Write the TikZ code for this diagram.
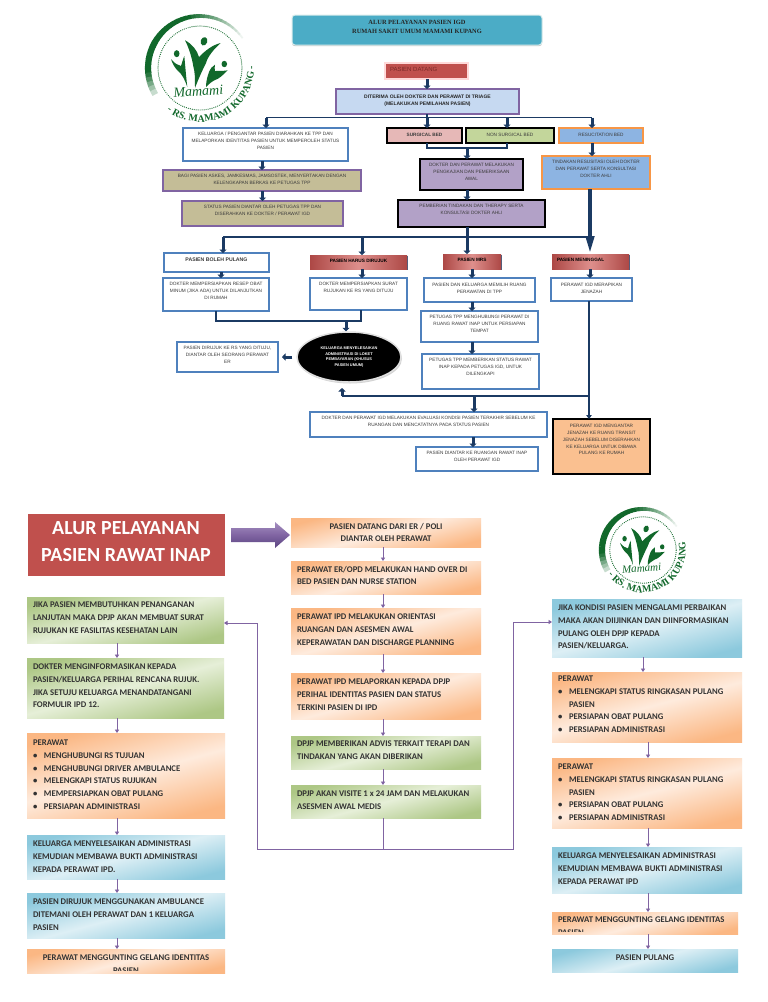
\documentclass[tikz,border=0pt]{standalone}
\usepackage{fontspec}
\setmainfont{Liberation Sans}
\newfontfamily\calfam{Carlito}
\newfontfamily\tnrfam{Liberation Serif}
\usetikzlibrary{arrows.meta,shapes.geometric,shadows,calc,decorations.text}
\definecolor{navy}{HTML}{1B3A63}
\definecolor{bdblue}{HTML}{4F81BD}
\definecolor{bdpurple}{HTML}{8064A2}
\definecolor{tanfill}{HTML}{C4BD97}
\definecolor{lav}{HTML}{B2A1C7}
\definecolor{sky}{HTML}{8DB4E2}
\definecolor{bdorange}{HTML}{F79646}
\definecolor{logogreen}{HTML}{11682B}
\definecolor{txt}{HTML}{3C3C3C}
\definecolor{tealfill}{HTML}{4BACC6}
\definecolor{palebluefill}{HTML}{C6D9F1}
\definecolor{pinkfill}{HTML}{E6B8B7}
\definecolor{limefill}{HTML}{C3D69B}
\definecolor{peachfill}{HTML}{FAC090}
\definecolor{redfill}{HTML}{C0504D}
\definecolor{redmid}{HTML}{DE8F8C}
\definecolor{maroon}{HTML}{7A2A28}
\definecolor{oedge}{HTML}{FBB783}
\definecolor{omid}{HTML}{FEEBDD}
\definecolor{gedge}{HTML}{ADC785}
\definecolor{gmid}{HTML}{E6EFD8}
\definecolor{bedge}{HTML}{8CC9DD}
\definecolor{bmid}{HTML}{DDEFF5}
\definecolor{ptop}{HTML}{A48FC0}
\definecolor{pbot}{HTML}{5A4480}
\newcommand{\ftop}{\fontsize{4.7}{6.8}\selectfont}
\newcommand{\ftopb}{\fontsize{4.7}{6.8}\selectfont\bfseries}
\newcommand{\fbot}{\calfam\bfseries\fontsize{8.7}{12.7}\selectfont}
\newcommand{\Ctr}{\centering}
\newcommand{\Lft}{\raggedright\leftskip=6pt\relax}
\newcommand{\Bul}{\makebox[11pt][l]{\textbullet}}
\newlength{\bxcap}
\newcommand{\bx}[8]{%
  \pgfmathsetmacro\bxW{#4-#2}\pgfmathsetmacro\bxH{#5-#3}\pgfmathsetmacro\bxO{#7-#3}%
  \node[#6,anchor=north west,minimum width=\bxW pt,minimum height=\bxH pt,inner sep=0pt,outer sep=0pt] (#1) at (#2,-#3)
   {\parbox[c][\bxH pt][t]{\bxW pt}{\settoheight{\bxcap}{H}\vspace*{\dimexpr\bxO pt-.5\bxcap\relax}#8}};}
\newcommand{\logo}[4]{%
 \begin{scope}[shift={(#2,-#3)},scale=#4,transform shape]
  \foreach \a in {30,35,...,205}{%
    \pgfmathsetmacro\tt{100*max(0,min(1,min((\a-30)/70,(212-\a)/30)))}%
    \pgfmathsetmacro\lw{1.6+4.6*min(1,(\a-30)/120)}%
    \draw[logogreen!\tt!white,line width=\lw pt] (\a:52pt) arc (\a:\a+5.6:52pt);}
  \draw[logogreen,line width=1.2pt,dash pattern=on 0pt off 2pt,line cap=round] (0,0) circle (42pt);
  \fill[logogreen] (-15,27.7) .. controls (-8,24) and (-3,18) .. (-1,11) .. controls (5,17) and (12,23) .. (20.7,25) .. controls (14,19) and (8,12) .. (6,5) .. controls (2,-3) and (-2,-12) .. (-5,-20) .. controls (-5,-10) and (-5,-4) .. (-6.7,1.7) .. controls (-8,10) and (-11,20) .. (-15,27.7) -- cycle;
  \fill[logogreen,rotate around={-20:(4,26.7)}] (4,26.7) ellipse (3.3pt and 4.3pt);
  \fill[logogreen] (-29,9) .. controls (-25,4) and (-22,3) .. (-19,2) .. controls (-18,5) and (-17,9) .. (-15.7,12) .. controls (-15,5) and (-14,-8) .. (-12.7,-19) .. controls (-15,-12) and (-18,-6) .. (-22,-3) .. controls (-25,0) and (-28,5) .. (-29,9) -- cycle;
  \fill[logogreen] (-23.3,14.3) ellipse (2.8pt and 3.5pt);
  \fill[logogreen] (6,-19) .. controls (6,-12) and (8,-7) .. (9.3,-3.3) .. controls (10,-1) and (12,1.5) .. (15,3.3) .. controls (14.5,1) and (14.5,-1) .. (15,-3) .. controls (19,-3) and (24,-3) .. (27.7,-2.3) .. controls (23,-7) and (19,-11) .. (15,-12) .. controls (11,-14) and (8,-17) .. (6,-19) -- cycle;
  \fill[logogreen] (24.3,4) ellipse (2.8pt and 3.2pt);
  \node[text=logogreen,font=\tnrfam\itshape\fontsize{14}{15}\selectfont,rotate=4,inner sep=0pt] (#1) at (-1.7,-23.3) {Mamami};
  \path[decorate,decoration={text along path,text align={center},text={|\tnrfam\bfseries\fontsize{10}{11}\selectfont\color{logogreen}|- RS. MAMAMI KUPANG -}}] (226:54pt) arc (226:368:54pt);
 \end{scope}}
\tikzset{
 x=1pt,y=1pt,
 wbox/.style={draw=bdblue,line width=1.2pt,fill=white,text=txt,font=\ftop},
 tanbox/.style={draw=bdpurple,line width=1.2pt,fill=tanfill,text=txt,font=\ftop},
 lavbox/.style={draw=black,line width=1.5pt,fill=lav,text=txt,font=\ftop},
 bedbox/.style={draw=black,line width=1.5pt,text=txt,font=\ftop},
 skybox/.style={fill=sky,draw=bdorange,text=txt,font=\ftop},
 redbev/.style={left color=redfill!90!black,right color=redfill!90!black,middle color=redmid,font=\ftopb,text=black,drop shadow={shadow xshift=1.2pt,shadow yshift=-1.4pt,opacity=1,fill=navy!80}},
 softbase/.style={shading angle=15,font=\fbot,text=black!80,drop shadow={shadow xshift=0pt,shadow yshift=-1.2pt,opacity=.55,fill=gray}},
 obox/.style={left color=oedge,right color=oedge,middle color=omid,softbase},
 gbox/.style={left color=gedge,right color=gedge,middle color=gmid,softbase},
 bbox/.style={left color=bedge,right color=bedge,middle color=bmid,softbase},
 plainbody/.style={font=\fbot,text=black!80},
 narr/.style={draw=navy,line width=3pt,-{Triangle[width=7pt,length=3.5pt]}},
 nline/.style={draw=navy,line width=1.5pt},
 nthick/.style={draw=navy,line width=2pt},
 parr/.style={draw=bdpurple,line width=1pt,-{Triangle[width=4.2pt,length=3.5pt]}},
 pline/.style={draw=bdpurple,line width=1pt},
}
\begin{document}
\begin{tikzpicture}
\useasboundingbox (0,0) rectangle (768,-1002);
\fill[white] (0,0) rectangle (768,-1002);
\logo{logoa}{200}{68}{1}
\logo{logob}{643}{550}{.79}
% ---------- top diagram
\bx{title}{292}{15}{542}{45}{rounded corners=3pt,fill=tealfill,draw=white!85!teal,line width=1pt,font=\tnrfam\bfseries\fontsize{6.4}{8.6}\selectfont,text=black!85,drop shadow={shadow xshift=0pt,shadow yshift=-1.2pt,opacity=.5,fill=gray}}{22.7}{\Ctr ALUR PELAYANAN PASIEN IGD\\RUMAH SAKIT UMUM MAMAMI KUPANG}
\bx{datang}{385}{63}{468}{79}{fill=redfill,draw=red!15,line width=1.2pt,font=\fontsize{6}{7}\selectfont,text=maroon,drop shadow={shadow xshift=.8pt,shadow yshift=-.8pt,opacity=.4,fill=gray}}{69}{\raggedright\leftskip=5pt\relax PASIEN DATANG}
\bx{triage}{336}{89}{519}{114}{fill=palebluefill,draw=bdpurple,line width=1.3pt,font=\fontsize{5}{7}\selectfont\bfseries,text=black!85}{97}{\Ctr DITERIMA OLEH DOKTER DAN PERAWAT DI TRIAGE\\(MELAKUKAN PEMILAHAN PASIEN)}
\bx{k1}{183}{128}{348}{161}{wbox}{134}{\Ctr KELUARGA / PENGANTAR PASIEN DIARAHKAN KE TPP DAN\\MELAPORKAN IDENTITAS PASIEN UNTUK MEMPEROLEH STATUS\\PASIEN}
\bx{k2}{163}{170}{361}{191}{tanbox}{176}{\Ctr BAGI PASIEN ASKES, JAMKESMAS, JAMSOSTEK, MENYERTAKAN DENGAN\\KELENGKAPAN BERKAS KE PETUGAS TPP}
\bx{k3}{182}{201}{343}{226}{tanbox}{207}{\Ctr STATUS PASIEN DIANTAR OLEH PETUGAS TPP DAN\\DISERAHKAN KE DOKTER / PERAWAT IGD}
\bx{surg}{387}{128}{462}{143}{bedbox,fill=pinkfill,font=\ftopb}{135}{\Ctr SURGICAL BED}
\bx{nons}{466}{128}{554}{143}{bedbox,fill=limefill}{135}{\Ctr NON SURGICAL BED}
\bx{resus}{559}{128}{643}{143}{skybox,line width=1.5pt}{135}{\Ctr RESUCITATION BED}
\bx{dok}{420}{159}{523}{190}{lavbox}{165}{\Ctr DOKTER DAN PERAWAT MELAKUKAN\\PENGKAJIAN DAN PEMERIKSAAN\\AWAL}
\bx{pemb}{398}{200}{545}{227}{lavbox}{206}{\Ctr PEMBERIAN TINDAKAN DAN THERAPY SERTA\\KONSULTASI DOKTER AHLI}
\bx{tind}{542}{156}{650}{189}{skybox,line width=2pt}{162}{\Ctr TINDAKAN RESUSITASI OLEH DOKTER\\DAN PERAWAT SERTA KONSULTASI\\DOKTER AHLI}
\bx{boleh}{164}{253}{269}{272}{wbox,font=\fontsize{5.2}{6.8}\selectfont\bfseries}{260}{\Ctr PASIEN BOLEH PULANG}
\bx{harus}{310}{255}{407}{269}{redbev}{261}{\Ctr PASIEN HARUS DIRUJUK}
\bx{mrs}{443}{254}{501}{269}{redbev}{260}{\Ctr PASIEN MRS}
\bx{mening}{552}{254}{629}{269}{redbev}{260}{\raggedright\leftskip=5pt\relax PASIEN MENINGGAL}
\bx{resep}{163}{278}{269}{311}{wbox}{284}{\Ctr DOKTER MEMPERSIAPKAN RESEP OBAT\\MINUM (JIKA ADA) UNTUK DILANJUTKAN\\DI RUMAH}
\bx{surat}{310}{278}{407}{310}{wbox}{284}{\Ctr DOKTER  MEMPERSIAPKAN SURAT\\RUJUKAN KE RS YANG DITUJU}
\node[ellipse,fill=black,draw=black!12,line width=1.5pt,minimum width=104pt,minimum height=50pt,inner sep=0pt,text=white,align=center,font=\fontsize{3.9}{5.6}\selectfont\bfseries,drop shadow={shadow xshift=1pt,shadow yshift=-1.5pt,opacity=.35,fill=gray}] (oval) at (349,-357) {KELUARGA MENYELESAIKAN\\ADMINISTRASI DI LOKET\\PEMBAYARAN (KHUSUS\\PASIEN UMUM)};
\bx{dirujuk}{177}{342}{278}{372}{wbox}{348}{\Ctr PASIEN DIRUJUK KE RS YANG DITUJU,\\DIANTAR OLEH SEORANG PERAWAT\\ER}
\bx{pilih}{424}{278}{535}{302}{wbox}{285}{\Ctr PASIEN DAN KELUARGA MEMILIH RUANG\\PERAWATAN DI TPP}
\bx{hub}{421}{311}{538}{342}{wbox}{317}{\Ctr PETUGAS TPP  MENGHUBUNGI PERAWAT DI\\RUANG RAWAT INAP UNTUK PERSIAPAN\\TEMPAT}
\bx{beri}{422}{354}{539}{389}{wbox}{360}{\Ctr PETUGAS TPP MEMBERIKAN STATUS RAWAT\\INAP KEPADA PETUGAS IGD, UNTUK\\DILENGKAPI}
\bx{rapi}{551}{278}{632}{301}{wbox}{285}{\Ctr PERAWAT IGD MERAPIKAN\\JENAZAH}
\bx{eval}{310}{412}{547}{437}{wbox}{418}{\Ctr DOKTER DAN PERAWAT IGD MELAKUKAN EVALUASI KONDISI PASIEN TERAKHIR SEBELUM KE\\RUANGAN DAN MENCATATNYA PADA STATUS PASIEN}
\bx{antar}{416}{447}{538}{471}{wbox}{453}{\Ctr PASIEN DIANTAR KE RUANGAN RAWAT INAP\\OLEH PERAWAT IGD}
\bx{jen}{553}{419}{650}{474}{fill=peachfill,draw=black,line width=2pt,text=txt,font=\ftop}{426}{\Ctr PERAWAT IGD MENGANTAR\\JENAZAH KE RUANG TRANSIT\\JENAZAH SEBELUM DISERAHKAN\\KE KELUARGA UNTUK DIBAWA\\PULANG KE RUMAH}
% top connectors
\coordinate (b1L) at (266,-117.5); \coordinate (b1R) at (592,-117.5);
\coordinate (xS) at (427,0); \coordinate (xN) at (507,0);
\coordinate (xT) at (467,0); \coordinate (xD) at (590,0);
\draw[narr] (datang.south -| xS) -- (triage.north -| xS);
\draw[nline] (b1L) -- (b1R);
\draw[nline] (triage.south -| xS) -- (b1L -| xS);
\draw[narr] (b1L) -- (k1.north -| b1L);
\draw[narr] (b1L -| xS) -- (surg.north -| xS);
\draw[narr] (b1L -| xN) -- (nons.north -| xN);
\draw[narr] (b1R) -- (resus.north -| b1R);
\draw[narr] (k1.south -| k2.north) -- (k2.north);
\draw[narr] (k2.south -| k3.north) -- (k3.north);
\coordinate (m1) at (467,-148);
\draw[nline] (surg.south -| xS) |- (m1) -| (nons.south -| xN);
\draw[narr] (m1) -- (dok.north -| m1);
\draw[narr] (dok.south -| xT) -- (pemb.north -| xT);
\draw[narr] (resus.south -| b1R) -- (tind.north -| b1R);
\coordinate (b2L) at (223,-237); \coordinate (b2R) at (590,-237); \coordinate (xH) at (362,0);
\draw[nline] (b2L) -- (b2R);
\draw[narr] (b2L) -- (boleh.north -| b2L);
\draw[narr] (b2L -| xH) -- (harus.north -| xH);
\draw[narr] (pemb.south -| xT) -- (mrs.north -| xT);
\draw[draw=navy,line width=4pt,-{Triangle[width=8pt,length=18pt]}] (tind.south -| xD) -- (mening.north -| xD);
\coordinate (xBP) at (221,0); \coordinate (xM) at (472,0);
\draw[narr] (boleh.south -| xBP) -- (resep.north -| xBP);
\draw[narr] (harus.south -| xH) -- (surat.north -| xH);
\draw[narr] (mrs.south -| xM) -- (pilih.north -| xM);
\draw[narr] (pilih.south -| xM) -- (hub.north -| xM);
\draw[narr] (hub.south -| xM) -- (beri.north -| xM);
\draw[narr] (mening.south -| xD) -- (rapi.north -| xD);
\coordinate (b3) at (346,-321); \coordinate (xR) at (216,0); \coordinate (xQ) at (361,0);
\draw[nthick] (resep.south -| xR) |- (b3) -| (surat.south -| xQ);
\draw[narr] (b3) -- (oval.north -| b3);
\draw[narr,shorten <=4pt,shorten >=4pt] (oval.west) -- (dirujuk.east |- oval.west);
\coordinate (b4L) at (342,-396); \coordinate (b4R) at (589,-396); \coordinate (xE) at (474,0); \coordinate (b4U) at (342,-388); \coordinate (xF) at (473,0);
\draw[nthick] (rapi.south -| b4R) -- (b4R) -- (b4L);
\draw[narr] (b4L) -- (b4U);
\draw[narr] (b4L -| xE) -- (eval.north -| xE);
\draw[nthick,-{Triangle[width=5.5pt,length=4pt]}] (b4R) -- (jen.north -| b4R);
\draw[narr] (eval.south -| xF) -- (antar.north -| xF);
% ---------- bottom diagram
\bx{alur}{27}{513}{225}{576}{fill=redfill,draw=white,line width=1pt,text=white,font=\calfam\bfseries\fontsize{20}{27}\selectfont,drop shadow={shadow xshift=.8pt,shadow yshift=-1pt,opacity=.45,fill=gray}}{528}{\Ctr ALUR PELAYANAN\\PASIEN RAWAT INAP}
\shade[top color=ptop,bottom color=pbot,middle color=bdpurple] (231,-528) -- (275,-528) -- (275,-522) -- (290,-535) -- (275,-548) -- (275,-542) -- (231,-542) -- cycle;
\bx{g1}{27}{597}{224}{643}{gbox}{605}{\Lft JIKA PASIEN MEMBUTUHKAN PENANGANAN\\LANJUTAN MAKA DPJP AKAN MEMBUAT SURAT\\RUJUKAN KE FASILITAS KESEHATAN LAIN}
\bx{g2}{27}{658}{224}{718}{gbox}{667}{\Lft DOKTER MENGINFORMASIKAN KEPADA\\PASIEN/KELUARGA PERIHAL RENCANA RUJUK.\\JIKA SETUJU KELUARGA MENANDATANGANI\\FORMULIR IPD 12.}
\bx{o1}{27}{733}{225}{818}{obox}{743}{\Lft PERAWAT\\\Bul MENGHUBUNGI RS TUJUAN\\\Bul MENGHUBUNGI DRIVER AMBULANCE\\\Bul MELENGKAPI STATUS RUJUKAN\\\Bul MEMPERSIAPKAN OBAT PULANG\\\Bul PERSIAPAN ADMINISTRASI}
\bx{b1}{27}{835}{225}{879}{bbox}{844}{\Lft KELUARGA MENYELESAIKAN ADMINISTRASI\\KEMUDIAN MEMBAWA BUKTI ADMINISTRASI\\KEPADA PERAWAT IPD.}
\bx{b2}{27}{893}{225}{938}{bbox}{902}{\Lft PASIEN DIRUJUK MENGGUNAKAN AMBULANCE\\DITEMANI OLEH PERAWAT DAN 1 KELUARGA\\PASIEN}
\bx{o2}{27}{949}{225}{973}{obox}{958}{}
\begin{scope}
 \clip (o2.north west) rectangle ($(o2.south east)+(0,2.5)$);
 \bx{o2t}{27}{949}{225}{973}{plainbody}{958}{\Ctr PERAWAT MENGGUNTING GELANG IDENTITAS\\PASIEN}
\end{scope}
\bx{c1}{291}{518}{481}{547}{obox}{526}{\Ctr PASIEN DATANG DARI ER / POLI\\DIANTAR OLEH PERAWAT}
\bx{c2}{291}{561}{481}{594}{obox}{569}{\Lft PERAWAT ER/OPD MELAKUKAN HAND OVER DI\\BED PASIEN DAN NURSE STATION}
\bx{c3}{291}{608}{481}{654}{obox}{617}{\Lft PERAWAT IPD MELAKUKAN ORIENTASI\\RUANGAN DAN ASESMEN AWAL\\KEPERAWATAN DAN DISCHARGE PLANNING}
\bx{c4}{291}{673}{481}{719}{obox}{682}{\Lft PERAWAT IPD MELAPORKAN KEPADA DPJP\\PERIHAL IDENTITAS PASIEN DAN STATUS\\TERKINI PASIEN DI IPD}
\bx{c5}{291}{736}{481}{769}{gbox}{744}{\Lft DPJP MEMBERIKAN ADVIS TERKAIT TERAPI DAN\\TINDAKAN YANG AKAN DIBERIKAN}
\bx{c6}{291}{785}{481}{818}{gbox}{794}{\Lft DPJP AKAN VISITE 1 x 24 JAM DAN MELAKUKAN\\ASESMEN AWAL MEDIS}
\bx{r1}{552}{599}{742}{657}{bbox}{608}{\Lft JIKA KONDISI PASIEN MENGALAMI PERBAIKAN\\MAKA AKAN DIIJINKAN  DAN DIINFORMASIKAN\\PULANG OLEH DPJP KEPADA\\PASIEN/KELUARGA.}
\bx{r2}{552}{672}{742}{742}{obox}{679}{\Lft PERAWAT\\\Bul MELENGKAPI STATUS RINGKASAN PULANG\\\hspace*{11pt}PASIEN\\\Bul PERSIAPAN OBAT PULANG\\\Bul PERSIAPAN ADMINISTRASI}
\bx{r3}{552}{758}{742}{828}{obox}{767}{\Lft PERAWAT\\\Bul MELENGKAPI STATUS RINGKASAN PULANG\\\hspace*{11pt}PASIEN\\\Bul PERSIAPAN OBAT PULANG\\\Bul PERSIAPAN ADMINISTRASI}
\bx{r4}{552}{847}{742}{893}{bbox}{856}{\Lft KELUARGA MENYELESAIKAN ADMINISTRASI\\KEMUDIAN MEMBAWA BUKTI ADMINISTRASI\\KEPADA PERAWAT IPD}
\bx{r5}{552}{912}{738}{934}{obox}{920}{}
\begin{scope}
 \clip (r5.north west) rectangle ($(r5.south east)+(0,2.5)$);
 \bx{r5t}{552}{912}{738}{934}{plainbody}{920}{\Lft PERAWAT MENGGUNTING GELANG IDENTITAS\\PASIEN}
\end{scope}
\bx{r6}{552}{949}{738}{972}{bbox}{958}{\Ctr PASIEN PULANG}
% bottom connectors
\coordinate (xL) at (117,0); \coordinate (xC) at (383,0); \coordinate (xRa) at (643,0); \coordinate (xRb) at (648,0);
\draw[parr] (g1.south -| xL) -- (g2.north -| xL);
\draw[parr] (g2.south -| xL) -- (o1.north -| xL);
\draw[parr] (o1.south -| xL) -- (b1.north -| xL);
\draw[parr] (b1.south -| xL) -- (b2.north -| xL);
\draw[parr] (b2.south -| xL) -- (o2.north -| xL);
\draw[parr] (c1.south -| xC) -- (c2.north -| xC);
\draw[parr] (c2.south -| xC) -- (c3.north -| xC);
\draw[parr] (c3.south -| xC) -- (c4.north -| xC);
\draw[parr] (c4.south -| xC) -- (c5.north -| xC);
\draw[parr] (c5.south -| xC) -- (c6.north -| xC);
\draw[parr] (r1.south -| xRa) -- (r2.north -| xRa);
\draw[parr] (r2.south -| xRb) -- (r3.north -| xRb);
\draw[parr] (r3.south -| xRb) -- (r4.north -| xRb);
\draw[parr] (r4.south -| xRb) -- (r5.north -| xRb);
\draw[parr] (r5.south -| xRb) -- (r6.north -| xRb);
\coordinate (loop) at (383,-849.5); \coordinate (loopL) at (257,-849.5); \coordinate (loopR) at (513,-849.5);
\coordinate (yG) at (0,-623); \coordinate (yR) at (0,-622);
\draw[pline] (c6.south -| xC) -- (loop);
\draw[parr] (loopR) -- (loopL) |- (g1.east |- yG);
\draw[parr] (loopR) |- (r1.west |- yR);
\end{tikzpicture}
\end{document}
